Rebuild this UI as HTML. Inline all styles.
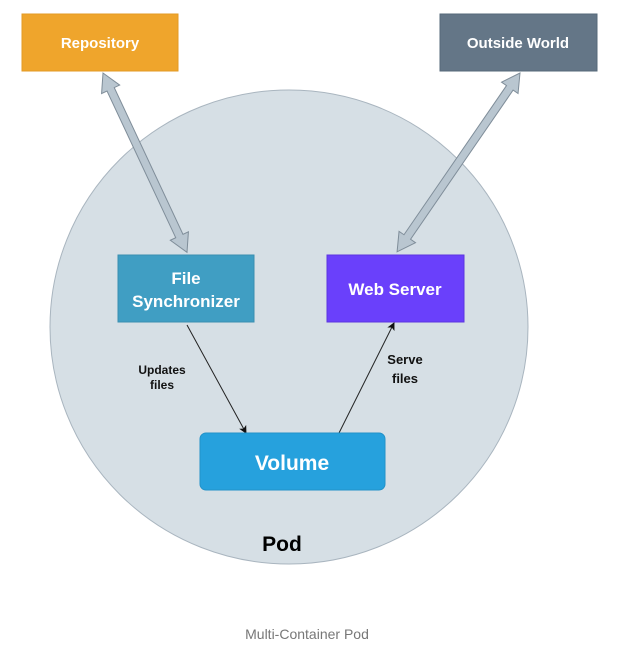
<!DOCTYPE html>
<html><head><style>
body{margin:0;background:#fff;width:622px;height:648px;overflow:hidden;font-family:"Liberation Sans",Arial,sans-serif}
</style></head><body>
<svg width="622" height="648" xmlns="http://www.w3.org/2000/svg" font-family="Liberation Sans, Arial, sans-serif">
<defs>
<marker id="a" markerWidth="8" markerHeight="8" refX="7" refY="4" orient="auto" markerUnits="userSpaceOnUse"><path d="M0,0 L8,4 L0,8 L2,4 Z" fill="#111"/></marker>
</defs>
<ellipse cx="289" cy="327" rx="239" ry="237" fill="#d6dfe5" stroke="#a9b5bf" stroke-width="1"/>
<rect x="22" y="14" width="156" height="57" fill="#efa52c" stroke="#e39a24"/>
<text x="100" y="48" fill="#fff" font-size="15" font-weight="bold" text-anchor="middle">Repository</text>
<rect x="440" y="14" width="157" height="57" fill="#647687" stroke="#56687a"/>
<text x="518" y="48" fill="#fff" font-size="15" font-weight="bold" text-anchor="middle">Outside World</text>
<g transform="translate(103,73) rotate(64.9)">
<polygon points="0,0 18,-10 18,-4 180,-4 180,-10 198,0 180,10 180,4 18,4 18,10" fill="#b9c6d0" stroke="#7f8d99" stroke-width="1"/>
</g>
<g transform="translate(520,73) rotate(124.5)">
<polygon points="0,0 18,-10 18,-4 199,-4 199,-10 217,0 199,10 199,4 18,4 18,10" fill="#b9c6d0" stroke="#7f8d99" stroke-width="1"/>
</g>
<rect x="118" y="255" width="136" height="67" fill="#409ec3" stroke="#3a8fb0"/>
<text x="186" y="284" fill="#fff" font-size="17" font-weight="bold" text-anchor="middle">File</text>
<text x="186" y="307" fill="#fff" font-size="17" font-weight="bold" text-anchor="middle">Synchronizer</text>
<rect x="327" y="255" width="137" height="67" fill="#6a40fb" stroke="#5c35e0"/>
<text x="395" y="295" fill="#fff" font-size="17" font-weight="bold" text-anchor="middle">Web Server</text>
<line x1="187" y1="325" x2="246" y2="433" stroke="#222" stroke-width="1" marker-end="url(#a)"/>
<line x1="339" y1="433" x2="394" y2="323" stroke="#222" stroke-width="1" marker-end="url(#a)"/>
<text x="162" y="374" fill="#111" font-size="12" font-weight="bold" text-anchor="middle">Updates</text>
<text x="162" y="389" fill="#111" font-size="12" font-weight="bold" text-anchor="middle">files</text>
<text x="405" y="364" fill="#111" font-size="13" font-weight="bold" text-anchor="middle">Serve</text>
<text x="405" y="383" fill="#111" font-size="13" font-weight="bold" text-anchor="middle">files</text>
<rect x="200" y="433" width="185" height="57" rx="6" fill="#26a1dd" stroke="#2292c9"/>
<text x="292" y="470" fill="#fff" font-size="21" font-weight="bold" text-anchor="middle">Volume</text>
<text x="282" y="551" fill="#000" font-size="21" font-weight="bold" text-anchor="middle">Pod</text>
<text x="307" y="639" fill="#777" font-size="14" text-anchor="middle">Multi-Container Pod</text>
</svg>
</body></html>
